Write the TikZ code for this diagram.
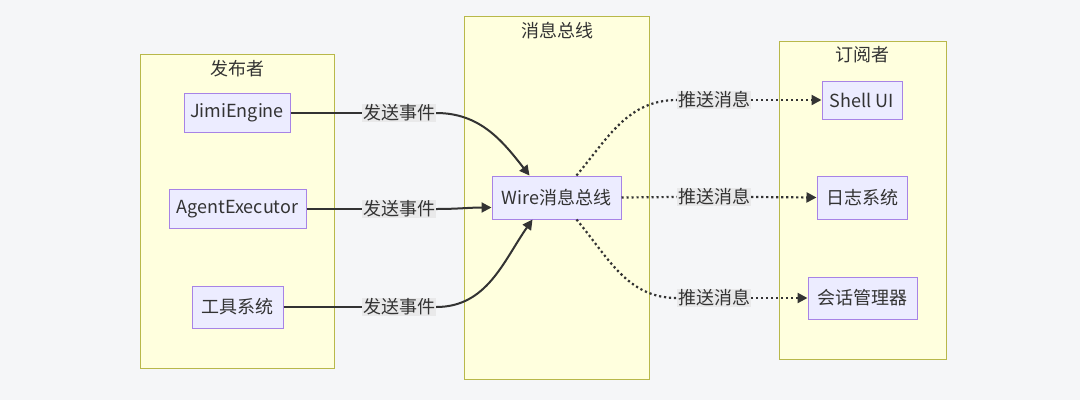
\documentclass[tikz,border=0pt]{standalone}
\usepackage{fontspec}
\setmainfont{Noto Sans CJK SC}
\usetikzlibrary{arrows.meta}
\definecolor{bgc}{HTML}{F5F6F8}
\definecolor{clfill}{HTML}{FFFFDE}
\definecolor{clline}{HTML}{B8B84A}
\definecolor{ndfill}{HTML}{ECECFF}
\definecolor{ndline}{HTML}{A783E6}
\definecolor{ink}{HTML}{333333}
\definecolor{lblbg}{HTML}{E9E9EA}
\tikzset{
  cluster/.style={draw=clline, fill=clfill, line width=1pt},
  ctitle/.style={text=ink, font=\fontsize{18}{21}\selectfont, inner sep=0pt},
  box/.style={draw=ndline, fill=ndfill, line width=1pt, text=ink, inner sep=0pt,
              font=\fontsize{18}{21}\selectfont},
  elabel/.style={fill=lblbg, text=ink, inner sep=1pt,
                 font=\fontsize{18}{21}\selectfont},
  solidedge/.style={draw=ink, line width=2pt},
  dotedge/.style={draw=ink, line width=2.2pt, dash pattern=on 2.2pt off 2.8pt},
  tip/.style={-{Triangle[length=10pt,width=10pt]}}
}
\begin{document}
\begin{tikzpicture}[x=1pt,y=-1pt]
\fill[bgc] (0,0) rectangle (1080,400);
\useasboundingbox (0,0) rectangle (1080,400);
% clusters
\draw[cluster] (140,54) rectangle (334,368);
\draw[cluster] (464,16) rectangle (649,379);
\draw[cluster] (779,41) rectangle (946,359);
\node[ctitle] (t1) at (237,69) {发布者};
\node[ctitle] (t2) at (557,31) {消息总线};
\node[ctitle] (t3) at (862,55) {订阅者};
% nodes
\node[box, minimum width=106pt, minimum height=39pt] (jimi) at (237,113) {JimiEngine};
\node[box, minimum width=137pt, minimum height=39pt] (agent) at (237.5,209) {AgentExecutor};
\node[box, minimum width=91pt, minimum height=42pt] (tool) at (237.5,307) {工具系统};
\node[box, minimum width=129pt, minimum height=43pt] (wire) at (556.5,197.5) {Wire消息总线};
\node[box, minimum width=80pt, minimum height=38pt] (shell) at (862,100) {Shell UI};
\node[box, minimum width=90pt, minimum height=43pt] (log) at (862,197.5) {日志系统};
\node[box, minimum width=109pt, minimum height=42pt] (sess) at (862.5,298) {会话管理器};
% edge labels
\node[elabel] (l1) at (399,113) {发送事件};
\node[elabel] (l2) at (399,209) {发送事件};
\node[elabel] (l3) at (399,307) {发送事件};
\node[elabel] (r1) at (714,100) {推送消息};
\node[elabel] (r2) at (714,197) {推送消息};
\node[elabel] (r3) at (714,298) {推送消息};
% connection points on Wire
\coordinate (wNW) at ([xshift=-27pt]wire.north);
\coordinate (wSW) at ([xshift=-24pt]wire.south);
\coordinate (wNE) at ([xshift=20pt]wire.north);
\coordinate (wSE) at ([xshift=20pt]wire.south);
\coordinate (wW) at ([yshift=-10pt]wire.west);
% publisher edges
\draw[solidedge] (jimi.east) -- (l1.west);
\draw[solidedge, tip] (l1.east) to[out=0, in=128] (wNW);
\draw[solidedge] (agent.east) -- (l2.west);
\draw[solidedge, tip] (l2.east) to[out=0, in=180] (wW);
\draw[solidedge] (tool.east) -- (l3.west);
\draw[solidedge, tip] (l3.east) to[out=0, in=-125] (wSW);
% subscriber edges
\draw[dotedge] (wNE) to[out=50, in=180] (r1.west);
\draw[dotedge, tip] (r1.east) -- (shell.west);
\draw[dotedge] (wire.east) -- (r2.west);
\draw[dotedge, tip] (r2.east) -- (log.west);
\draw[dotedge] (wSE) to[out=-50, in=180] (r3.west);
\draw[dotedge, tip] (r3.east) -- (sess.west);
\end{tikzpicture}
\end{document}
